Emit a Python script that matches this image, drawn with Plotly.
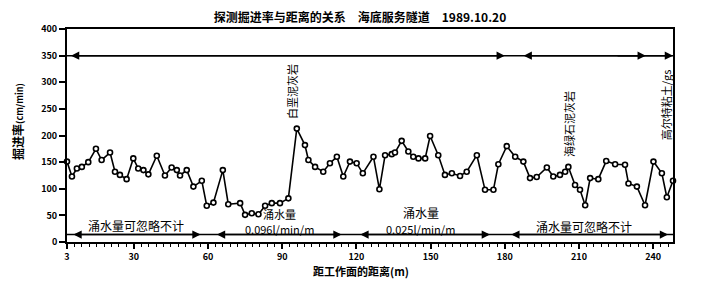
import plotly.graph_objects as go

# distance from working face (m) and excavation rate (cm/min)
distance_m = [3, 5, 7, 9, 11.6, 14.7, 17, 20.4, 22.4, 24.4, 27.1, 29.8, 31.8, 33.9, 35.9,
              39.3, 42.6, 45.3, 47.4, 48.7, 51.4, 54.1, 57.5, 59.5, 62.2, 66, 68.2, 73, 75,
              77.7, 80.4, 83.1, 85.8, 89.1, 92.5, 95.9, 99.2, 100.6, 103.3, 106.6, 109.3,
              112.1, 114.7, 117.4, 120.1, 122.6, 126.9, 129.3, 131.6, 134.3, 135.6, 138.3,
              141, 143, 145.1, 147.8, 149.8, 153.1, 155.8, 158.6, 161.9, 164.6, 168.7, 172,
              175.4, 177.4, 180.8, 184.2, 187.5, 190.2, 192.9, 197, 199.6, 202.3, 204.4,
              205.7, 208.4, 210.4, 212.5, 214.5, 217.8, 221, 224.6, 228.6, 230, 233.4,
              236.7, 240.1, 243.5, 245.5, 248]
rate_cm_min = [151, 123, 138, 141, 150, 175, 154, 168, 132, 126, 118, 157, 138, 135, 127,
               162, 125, 140, 135, 125, 135, 104, 115, 68, 74, 135, 71, 73, 51,
               54, 52, 68, 73, 73, 82, 213, 182, 154, 141, 132, 148,
               160, 123, 151, 148, 129, 160, 99, 163, 165, 168, 190,
               170, 160, 157, 157, 199, 163, 126, 129, 124, 132, 163, 98,
               98, 146, 180, 160, 151, 120, 122, 140, 123, 126, 132,
               141, 107, 98, 69, 120, 118, 152, 146, 145, 110, 104,
               69, 151, 129, 84, 115]

x_ticks = [3, 30, 60, 90, 120, 150, 180, 210, 240]
y_ticks = [0, 50, 100, 150, 200, 250, 300, 350, 400]

title_text = "探测掘进率与距离的关系　海底服务隧道　1989.10.20"
x_title = "距工作面的距离(m)"
y_title = "掘进率<span style='font-size:9px'>(cm/min)</span>"

# strata spans (top, y=350) and inflow spans (bottom)
strata_spans = [(4, 180), (187, 248)]
inflow_spans = [(5, 57), (63, 114), (121, 174), (182, 246)]
inflow_labels = [(31, 31, 12, "涌水量可忽略不计"), (89, 52, 11, "涌水量"), (89, 25, 11, "0.096l/min/m"),
                 (146, 56, 12, "涌水量"), (146, 25, 11, "0.025l/min/m"), (212, 30, 12, "涌水量可忽略不计")]
strata_labels = [(94, 282, "白垩泥灰岩"), (206, 222, "海绿石泥灰岩"), (245, 258, "高尔特粘土/gs")]

FONT = "Noto Sans CJK SC, Noto Sans, sans-serif"

fig = go.Figure()
fig.add_trace(go.Scatter(
    x=distance_m, y=rate_cm_min, mode="lines+markers",
    line=dict(color="black", width=1.6),
    marker=dict(symbol="circle", size=5, color="white", line=dict(color="black", width=1.6)),
    cliponaxis=False, showlegend=False,
))

shapes = []
for yv in (350, 14):
    shapes.append(dict(type="line", xref="x", yref="y", x0=3, x1=248, y0=yv, y1=yv,
                       line=dict(color="black", width=1.5)))

annotations = []
for a, b in strata_spans:
    annotations.append(dict(x=b, y=350, ax=a, ay=350, xref="x", yref="y", axref="x", ayref="y",
                            text="", showarrow=True, arrowhead=2, arrowside="end+start",
                            arrowsize=1.1, arrowwidth=1.5, arrowcolor="black"))
annotations.append(dict(x=237, y=350, ax=225, ay=350, xref="x", yref="y", axref="x", ayref="y",
                        text="", showarrow=True, arrowhead=2, arrowsize=1.1, arrowwidth=1.5,
                        arrowcolor="black"))
for a, b in inflow_spans:
    annotations.append(dict(x=b, y=14, ax=a, ay=14, xref="x", yref="y", axref="x", ayref="y",
                            text="", showarrow=True, arrowhead=2, arrowside="end+start",
                            arrowsize=1.1, arrowwidth=1.5, arrowcolor="black"))
for xv, yv, fs, t in inflow_labels:
    annotations.append(dict(x=xv, y=yv, xref="x", yref="y", text=t, showarrow=False,
                            font=dict(family=FONT, size=fs, color="black")))
for xv, yv, t in strata_labels:
    annotations.append(dict(x=xv, y=yv, xref="x", yref="y", text=t, showarrow=False,
                            textangle=-90, font=dict(family=FONT, size=11, color="black")))
annotations.append(dict(x=(361 - 67) / 606, y=(242 - 271) / 213, xref="paper", yref="paper",
                        text=x_title, showarrow=False, yanchor="middle",
                        font=dict(family=FONT, size=11, color="black", weight="bold")))
annotations.append(dict(x=(17 - 67) / 606, y=(242 - 122) / 213, xref="paper", yref="paper",
                        text=y_title, showarrow=False, textangle=-90, xanchor="center",
                        yanchor="middle",
                        font=dict(family=FONT, size=12, color="black", weight="bold")))
fig.update_layout(
    width=701, height=282,
    margin=dict(l=67, r=28, t=29, b=40),
    paper_bgcolor="white", plot_bgcolor="white",
    title=dict(text=title_text, x=360 / 701, xref="container", xanchor="center",
               y=1 - 18 / 282, yref="container", yanchor="middle",
               font=dict(family=FONT, size=12, color="black", weight="bold")),
    shapes=shapes, annotations=annotations,
    xaxis=dict(range=[3, 248], tickvals=x_ticks, ticktext=[str(v) for v in x_ticks],
               showgrid=False, zeroline=False, showline=True, linecolor="black", linewidth=2,
               mirror=True, ticks="outside", ticklen=5, tickwidth=1.5, tickcolor="black",
               minor=dict(ticks="outside", ticklen=3, tickwidth=1, tickcolor="black",
                          dtick=3, tick0=0),
               tickfont=dict(family=FONT, size=9, color="black", weight="bold")),
    yaxis=dict(range=[0, 400], tickvals=y_ticks, showgrid=False, zeroline=False,
               showline=True, linecolor="black", linewidth=2, mirror=True,
               ticks="outside", ticklen=6, tickwidth=1.5, tickcolor="black",
               tickfont=dict(family=FONT, size=9, color="black", weight="bold")),
)
fig.write_html("out.html")
